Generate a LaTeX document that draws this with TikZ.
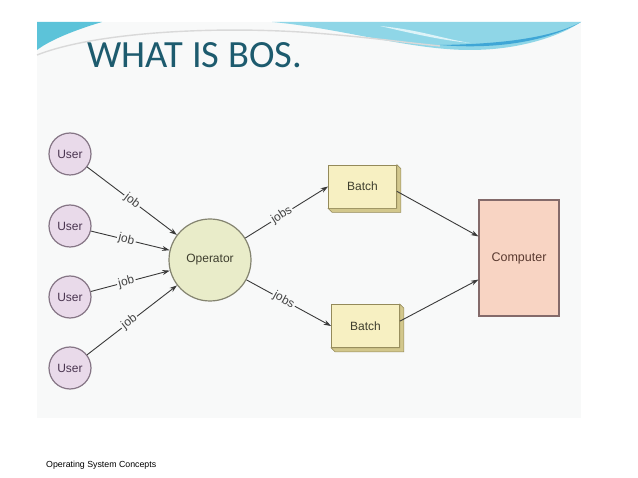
\documentclass[tikz,border=0pt]{standalone}
\usepackage{fontspec}
\setmainfont{Liberation Sans}
\newfontfamily\titlefont{Carlito}
\usetikzlibrary{arrows.meta,calc}
\definecolor{bgc}{HTML}{F8F9F9}
\definecolor{userfill}{HTML}{E9DAEA}
\definecolor{userdraw}{HTML}{857585}
\definecolor{userfont}{HTML}{4A3550}
\definecolor{opfill}{HTML}{E9ECC9}
\definecolor{opdraw}{HTML}{848470}
\definecolor{opfont}{HTML}{3E3E2E}
\definecolor{batchfill}{HTML}{F7F0C2}
\definecolor{batchdraw}{HTML}{948A5A}
\definecolor{batchside}{HTML}{D2C78C}
\definecolor{compfill}{HTML}{F8D4C3}
\definecolor{compdraw}{HTML}{846A6A}
\definecolor{compfont}{HTML}{5A3A30}
\definecolor{linec}{HTML}{3A3A3A}
\definecolor{labc}{HTML}{444444}
\definecolor{titlec}{HTML}{1D5B6E}
\definecolor{cyanA}{HTML}{5CC3D9}
\definecolor{cyanB}{HTML}{8FD6E7}
\definecolor{blueC}{HTML}{3FA6D6}
\tikzset{
  user/.style={circle, draw=userdraw, fill=userfill, line width=1.2pt, minimum size=42pt, inner sep=0pt, text=userfont, font=\fontsize{12}{12}\selectfont},
  oper/.style={circle, draw=opdraw, fill=opfill, line width=1.2pt, minimum size=82pt, inner sep=0pt, text=opfont, font=\fontsize{12}{12}\selectfont},
  batchbox/.style={rectangle, draw=batchdraw, fill=batchfill, line width=0.8pt, minimum width=68pt, minimum height=43pt, inner sep=0pt, text=opfont, font=\fontsize{12}{12}\selectfont},
  compbox/.style={rectangle, draw=compdraw, fill=compfill, line width=1.2pt, minimum width=80pt, minimum height=116pt, inner sep=0pt, text=compfont, font=\fontsize{12.5}{12.5}\selectfont},
  conn/.style={draw=linec, line width=0.9pt, -{Stealth[length=7.5pt,width=5pt]}},
  lab/.style={sloped, fill=bgc, inner sep=1.5pt, text=labc, font=\fontsize{12}{12}\selectfont}
}
\begin{document}
\begin{tikzpicture}[x=1pt,y=-1pt]
\useasboundingbox (0,0) rectangle (638,478);
\fill[white] (0,0) rectangle (638,478);
% slide area
\fill[bgc] (37,22) rectangle (581,418);
% banner
\fill[cyanA] (37,22) -- (102,22) .. controls (75,30) and (50,40) .. (37,50) -- cycle;
\fill[cyanB] (272,22) -- (581,22) .. controls (560,36) and (520,50) .. (470,50)
  .. controls (410,50) and (340,28) .. (272,22) -- cycle;
\fill[white!70!cyanB] (380,26) .. controls (420,30) and (440,38) .. (470,43)
  .. controls (440,40) and (410,33) .. (380,26) -- cycle;
\fill[blueC] (440,45) .. controls (500,50) and (550,40) .. (581,22)
  .. controls (555,36) and (510,44) .. (440,45) -- cycle;
\draw[gray!30, line width=1.4pt] (37,55) .. controls (90,34) and (200,26) .. (300,32)
  .. controls (360,36) and (400,42) .. (440,46);
% title
\node[anchor=base west, inner sep=0pt, text=titlec, font=\titlefont\fontsize{38.5}{38.5}\selectfont] (title) at (87,68) {WHAT IS BOS.};
% nodes
\node[user] (u1) at (70,154) {User};
\node[user] (u2) at (70,226) {User};
\node[user] (u3) at (70,297) {User};
\node[user] (u4) at (70,368) {User};
\node[oper] (op) at (210,260) {Operator};
\node[batchbox] (b1) at (362.5,186.5) {Batch};
\node[batchbox] (b2) at (365.5,326) {Batch};
\fill[batchside, draw=batchdraw, line width=0.6pt] (b1.north east) -- ++(4,4) -- ($(b1.south east)+(4,4)$) -- ($(b1.south west)+(4,4)$) -- (b1.south west) -- (b1.south east) -- cycle;
\fill[batchside, draw=batchdraw, line width=0.6pt] (b2.north east) -- ++(4,4) -- ($(b2.south east)+(4,4)$) -- ($(b2.south west)+(4,4)$) -- (b2.south west) -- (b2.south east) -- cycle;
\node[compbox] (comp) at (519,258) {Computer};
% connectors
\draw[conn] (u1) -- node[lab, pos=0.5] {job} (op);
\draw[conn] (u2) -- node[lab, pos=0.45] {job} (op);
\draw[conn] (u3) -- node[lab, pos=0.45] {job} (op);
\draw[conn] (u4) -- node[lab, pos=0.47] {job} (op);
\draw[conn] (op) -- node[lab, pos=0.44] {jobs} (b1.west);
\draw[conn] (op) -- node[lab, pos=0.44] {jobs} (b2.west);
\draw[conn] (b1.-8) -- (comp.152);
\draw[conn] (b2.8) -- (comp.208);
% footer
\node[anchor=base west, inner sep=0pt, font=\fontsize{8.8}{8.8}\selectfont] (foot) at (46,468) {Operating System Concepts};
\end{tikzpicture}
\end{document}
